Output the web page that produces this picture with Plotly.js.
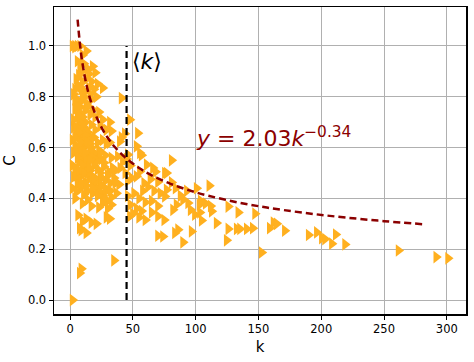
<!DOCTYPE html>
<html>
<head>
<meta charset="utf-8">
<script src="https://cdn.plot.ly/plotly-3.0.1.min.js"></script>
<style>html,body{margin:0;padding:0;background:#fff;}#chart{width:474px;height:362px;}</style>
</head>
<body>
<div id="chart"></div>
<script>
// Scatter data (degree k, clustering C)
const kVals = [
  2,4,6,8,4,
  13,10,
  6,8,11,14,18,20,9,15,
  5,7,10,13,17,22,8,
  4,6,9,12,15,19,26,11,16,
  5,8,10,13,17,41,21,
  4,6,8,10,12,14,16,18,20,23,26,31.7,47.6,7,12,
  3,5,8,11,14,17,20,24,29,33,43.6,54,9,15,
  2,4,7,10,13,16,19,22,26,29,31.6,39.6,41,6,12,
  3,5,8,11,14,17,20,23,25,28,33,38,42,46,53,55.6,57,45,9,
  2,4,7,10,13,16,19,22,27,31,36,40,44,48,61,66,76.9,80.9,55.6,68,
  3,6,9,12,15,18,21,24,28,32,35,39,46,49,53,59,64,70,75.5,80.9,6,
  2,5,8,11,14,18,22,26,29,33,37,46,51,55,58,62,67,72,76.9,75.5,100.8,110.9,90,88,84,93,
  4,10,14,17,23,30,33,48,53,60,65,70,84.8,82,94,103,108,112,104,126,96,
  6.4,10,13,17,21,29,31.6,47.6,50,55,60,65,70,75,99.4,103.4,112.8,134,147.3,116.7,104.8,162,164.6,57,
  7.7,13,9,70,74,83.5,86,96.8,126,132.7,135.3,140.7,145.5,159,171,196.5,211.6,190,
  90,124.7,200.5,203,208.5,219,
  152.6,261.6,291.6,301,35,9,7.7,2,
  // extra points filling the dense core
  3,5,7,9,11,13,15,17,19,21,
  4,6,8,10,12,14,16,18,20,24,
  3,5,7,9,11,13,15,17,21,25,
  4,6,8,10,12,14,16,19,23,27,
  5,7,9,11,13,15,18,22,26,30,
  24,27,30,34,28,32,36,25
];
const cVals = [
  1.0,1.0,1.0,1.0,0.995,
  0.98,0.965,
  0.94,0.92,0.93,0.91,0.92,0.895,0.9,0.89,
  0.87,0.885,0.86,0.87,0.86,0.85,0.84,
  0.83,0.845,0.83,0.82,0.835,0.83,0.835,0.8,0.81,
  0.79,0.78,0.795,0.775,0.79,0.795,0.8,
  0.75,0.73,0.76,0.72,0.745,0.76,0.73,0.75,0.72,0.74,0.71,0.70,0.71,0.705,0.7,
  0.68,0.665,0.69,0.675,0.66,0.69,0.67,0.685,0.67,0.665,0.655,0.657,0.65,0.645,
  0.63,0.61,0.64,0.62,0.635,0.615,0.64,0.62,0.63,0.615,0.62,0.624,0.64,0.6,0.605,
  0.58,0.595,0.57,0.585,0.56,0.58,0.565,0.59,0.555,0.57,0.56,0.565,0.545,0.572,0.605,0.579,0.57,0.555,0.55,
  0.53,0.515,0.54,0.52,0.535,0.51,0.53,0.515,0.525,0.505,0.51,0.52,0.5,0.53,0.533,0.52,0.5,0.55,0.506,0.505,
  0.485,0.47,0.49,0.465,0.48,0.46,0.475,0.455,0.47,0.46,0.48,0.455,0.47,0.48,0.487,0.46,0.475,0.465,0.5,0.463,0.455,
  0.44,0.425,0.44,0.415,0.43,0.42,0.44,0.41,0.43,0.405,0.42,0.41,0.42,0.4,0.43,0.445,0.43,0.42,0.434,0.408,0.44,0.45,0.395,0.41,0.44,0.43,
  0.4,0.38,0.395,0.37,0.365,0.39,0.375,0.375,0.36,0.385,0.39,0.37,0.375,0.355,0.382,0.375,0.38,0.37,0.39,0.368,0.355,
  0.334,0.31,0.32,0.305,0.3,0.325,0.32,0.33,0.34,0.325,0.315,0.345,0.33,0.315,0.336,0.345,0.349,0.345,0.34,0.303,0.313,0.305,0.3,0.35,
  0.283,0.264,0.275,0.253,0.25,0.264,0.277,0.27,0.28,0.28,0.28,0.28,0.283,0.283,0.273,0.266,0.258,0.256,
  0.227,0.235,0.244,0.24,0.222,0.219,
  0.187,0.195,0.169,0.164,0.156,0.123,0.106,0.0,
  0.81,0.77,0.74,0.71,0.68,0.66,0.63,0.6,0.58,0.55,
  0.79,0.76,0.72,0.69,0.65,0.62,0.59,0.56,0.54,0.5,
  0.71,0.68,0.66,0.6,0.57,0.55,0.52,0.49,0.47,0.45,
  0.64,0.56,0.62,0.53,0.58,0.5,0.55,0.48,0.43,0.4,
  0.49,0.51,0.46,0.5,0.45,0.52,0.44,0.41,0.38,0.36,
  0.58,0.54,0.49,0.52,0.44,0.43,0.46,0.48
];

// Fitted power law shown in the chart: y = 2.03 k^-0.34
const fitA = 2.03;
const fitB = -0.34;
const fitK = [6, 8, 10, 13, 16, 20, 25, 30, 36, 45, 55, 65, 80, 95, 110, 130, 150, 170, 195, 220, 250, 282];
const fitC = fitK.map(k => fitA * Math.pow(k, fitB));

// Mean degree marker
const meanK = [45, 45];
const meanC = [0, 1];

const xTicks = [0, 50, 100, 150, 200, 250, 300];
const yTicks = [0.0, 0.2, 0.4, 0.6, 0.8, 1.0];

const traces = [
  {
    x: kVals, y: cVals, type: 'scatter', mode: 'markers',
    marker: {symbol: 'triangle-right', size: 11, color: '#FFB01F', line: {width: 0}},
    hoverinfo: 'skip', showlegend: false
  },
  {
    x: meanK, y: meanC, type: 'scatter', mode: 'lines',
    line: {color: '#000000', width: 2.2, dash: '7px,4px'},
    showlegend: false
  },
  {
    x: fitK, y: fitC, type: 'scatter', mode: 'lines', line: {color: '#8B0000', width: 2.5, dash: '7px,4px', shape: 'spline'},
    showlegend: false
  }
];

const layout = {
  width: 474, height: 362,
  margin: {l: 54, r: 8, t: 7, b: 48},
  paper_bgcolor: '#ffffff', plot_bgcolor: '#ffffff',
  font: {family: 'DejaVu Sans', color: '#000000', size: 11},
  xaxis: {
    range: [-12.8, 315.3], tickvals: xTicks, ticktext: xTicks.map(String),
    showgrid: true, gridcolor: '#b0b0b0', gridwidth: 1,
    zeroline: false, showline: true, mirror: true, linecolor: '#000000', linewidth: 1.5,
    ticks: 'outside', ticklen: 4, tickcolor: '#000000', tickwidth: 1,
    tickfont: {size: 11.5, family: 'DejaVu Sans'},
    title: {text: 'k', font: {size: 15, family: 'DejaVu Sans'}, standoff: 6}
  },
  yaxis: {
    range: [-0.055, 1.1535], tickvals: yTicks, ticktext: yTicks.map(v => v.toFixed(1)),
    showgrid: true, gridcolor: '#b0b0b0', gridwidth: 1,
    zeroline: false, showline: true, mirror: true, linecolor: '#000000', linewidth: 1.5,
    ticks: 'outside', ticklen: 4, tickcolor: '#000000', tickwidth: 1,
    tickfont: {size: 11.5, family: 'DejaVu Sans'},
    title: {text: 'C', font: {size: 15, family: 'DejaVu Sans'}, standoff: 8}
  },
  annotations: [
    {x: 99, y: 0.64, xref: 'x', yref: 'y', xanchor: 'left', yanchor: 'middle', showarrow: false,
     text: '<i>y</i> = 2.03<i>k</i><sup>−0.34</sup>', font: {size: 22, color: '#8B0000', family: 'DejaVu Sans'}},
    {x: 48, y: 0.94, xref: 'x', yref: 'y', xanchor: 'left', yanchor: 'middle', showarrow: false,
     text: '⟨<i>k</i>⟩', font: {size: 22, color: '#000000', family: 'DejaVu Sans'}}
  ]
};

Plotly.newPlot('chart', traces, layout, {displayModeBar: false, staticPlot: true});
</script>
</body>
</html>
